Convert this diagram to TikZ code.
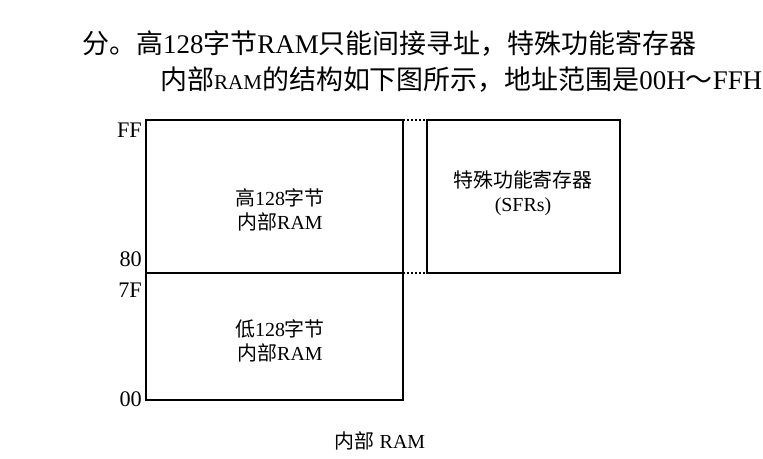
\documentclass[tikz,border=0pt]{standalone}
\usepackage{fontspec}
\setmainfont{Liberation Serif}
\newfontfamily\cjk{Noto Sans CJK SC}
\newcommand{\zh}[1]{{\cjk #1}}
\tikzset{
  membox/.style={draw, line width=1.4pt},
  addr/.style={anchor=east, font=\fontsize{19}{19}\selectfont},
  lbl/.style={font=\fontsize{17}{21}\selectfont, align=center},
  bodytext/.style={anchor=west, font=\fontsize{23}{23}\selectfont, inner sep=0pt},
  link/.style={line width=1.4pt, dotted}
}
\begin{document}
\begin{tikzpicture}[x=0.03cm,y=-0.03cm]
    \useasboundingbox (0,0) rectangle (763,459);
    \clip (0,0) rectangle (763,459);
    % running text of the page
    \node[bodytext] (line2) at (82,44) {\zh{分。高}128\zh{字节}RAM\zh{只能间接寻址，特殊功能寄存器}};
    \node[bodytext] (line3) at (160,80) {\zh{内部}{\fontsize{18}{18}\selectfont RAM}\zh{的结构如下图所示，地址范围是}00H\zh{～}FFH};
    
    \coordinate (A) at (146,120);
    \coordinate (B) at (403,120);
    \coordinate (C) at (146,273);
    \coordinate (D) at (403,273);
    \coordinate (E) at (146,400);
    \coordinate (F) at (403,400);
    \coordinate (G) at (427,120);
    \coordinate (H) at (620,273);
    
    \draw[membox] (A) rectangle (F);
    \draw[membox] (C) -- (D);
    \draw[membox] (G) rectangle (H);
    \draw[link] (B) -- (G);
    \draw[link] (D) -- (G |- D);
    
    \node[addr] (ff) at (146,130) {FF};
    \node[addr] (a80) at (146,259) {80};
    \node[addr] (a7f) at (146,290) {7F};
    \node[addr] (a00) at (146,399) {00};
    
    \node[lbl] (high) at (280,210) {\zh{高}128\zh{字节}\\\zh{内部}RAM};
    \node[lbl] (low) at (280,341) {\zh{低}128\zh{字节}\\\zh{内部}RAM};
    \node[lbl] (sfr) at (523,193) {\zh{特殊功能寄存器}\\(SFRs)};
    \node[lbl] (cap) at (380,441) {\zh{内部} RAM};
\end{tikzpicture}
\end{document}
